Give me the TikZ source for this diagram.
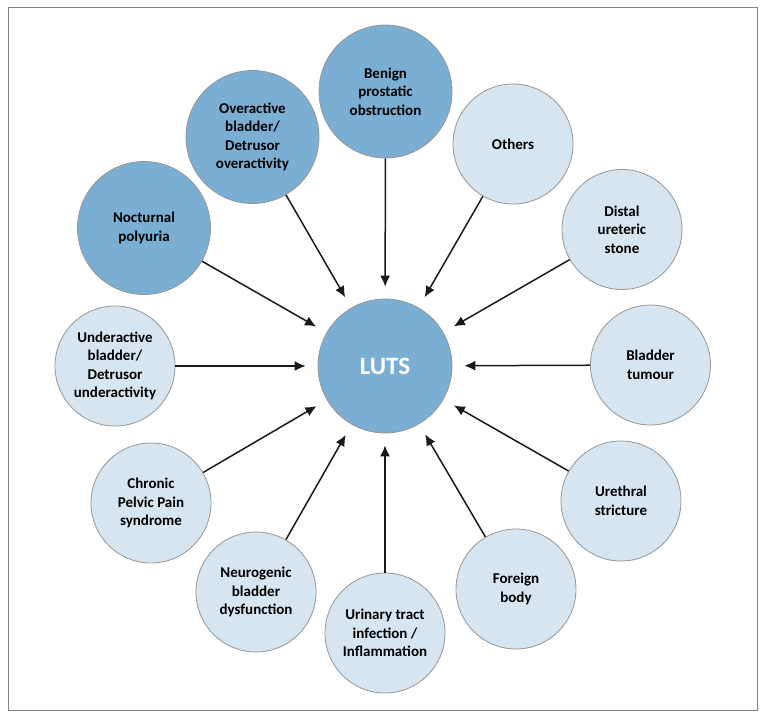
\documentclass[tikz,border=0pt]{standalone}
\usepackage{fontspec}
\setmainfont{Carlito}
\usetikzlibrary{arrows.meta}
\definecolor{darkfill}{RGB}{122,174,210}
\definecolor{lightfill}{RGB}{214,229,240}
\definecolor{rimgray}{RGB}{150,150,150}
\definecolor{framegray}{RGB}{130,130,130}
\definecolor{arrowcol}{RGB}{25,25,25}
\tikzset{
  base/.style={circle, draw=rimgray, line width=0.8pt, align=center, inner sep=0pt,
    font=\fontsize{15}{18.5}\selectfont\bfseries, text=black},
  darkc/.style={base, fill=darkfill, minimum size=133pt},
  lightc/.style={base, fill=lightfill, minimum size=120pt},
  lutsc/.style={base, fill=darkfill, minimum size=134pt, font=\fontsize{25}{30}\selectfont\bfseries, text=white},
  conn/.style={draw=arrowcol, line width=1.5pt, -{Latex[length=11pt,width=10pt]}, shorten >=12pt}
}
\begin{document}
\begin{tikzpicture}[x=1pt,y=-1pt]
\useasboundingbox (0,0) rectangle (768,720);
\draw[framegray, line width=1pt] (8,7.5) rectangle (757,710);
\node[lutsc] (luts) at (385,366) {LUTS};
\node[darkc] (bpo) at (385.5,91.5) {Benign\\prostatic\\obstruction};
\node[darkc] (oab) at (252.5,137) {Overactive\\bladder/\\Detrusor\\overactivity};
\node[darkc] (np) at (144,228) {Nocturnal\\polyuria};
\node[lightc] (oth) at (513,144) {Others};
\node[lightc] (dus) at (622,229.5) {Distal\\ureteric\\stone};
\node[lightc] (bt) at (650.5,365) {Bladder\\tumour};
\node[lightc] (us) at (621,501) {Urethral\\stricture};
\node[lightc] (fb) at (516,589) {Foreign\\body};
\node[lightc] (uti) at (385,633) {Urinary tract\\infection /\\Inflammation};
\node[lightc] (nbd) at (256,592) {Neurogenic\\bladder\\dysfunction};
\node[lightc] (cpp) at (151,503) {Chronic\\Pelvic Pain\\syndrome};
\node[lightc] (uab) at (115,366) {Underactive\\bladder/\\Detrusor\\underactivity};
\foreach \n in {bpo,oab,np,oth,dus,bt,us,fb,uti,nbd,cpp,uab}
  \draw[conn] (\n) -- (luts);
\end{tikzpicture}
\end{document}
